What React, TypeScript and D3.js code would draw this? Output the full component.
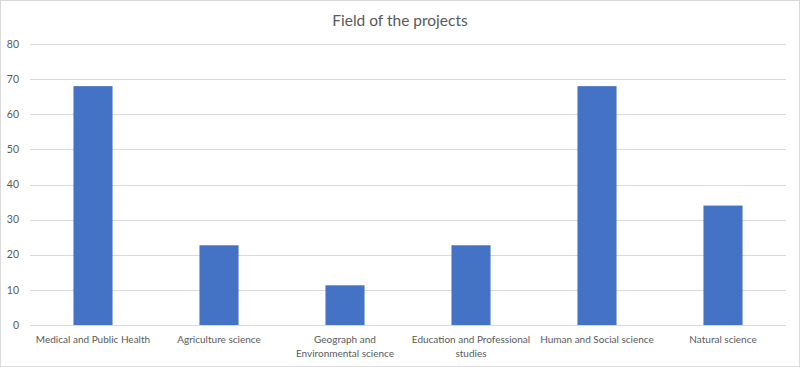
import { useEffect, useRef } from 'react';
import * as d3 from 'd3';

const categories = [
  'Medical and Public Health',
  'Agriculture science',
  'Geograph and Environmental science',
  'Education and Professional studies',
  'Human and Social science',
  'Natural science',
];
const values = [68, 22.7, 11.3, 22.7, 68, 34];
const yTicks = [0, 10, 20, 30, 40, 50, 60, 70, 80];

const WIDTH = 800;
const HEIGHT = 367;
const MARGIN = { top: 44, right: 14, bottom: 42, left: 30 };
const FONT = 'Lato, "Open Sans", sans-serif';

// wrap long category labels into lines no wider than the band
function wrap(sel: any, maxWidth: number) {
  sel.each(function (this: SVGTextElement) {
    const text = d3.select(this);
    const words = text.text().split(/\s+/);
    const x = text.attr('x');
    const y = text.attr('y');
    text.text(null);
    let line: string[] = [];
    let lineNo = 0;
    let tspan = text.append('tspan').attr('x', x).attr('y', y);
    for (const w of words) {
      line.push(w);
      tspan.text(line.join(' '));
      if ((tspan.node() as SVGTSpanElement).getComputedTextLength() > maxWidth && line.length > 1) {
        line.pop();
        tspan.text(line.join(' '));
        line = [w];
        lineNo++;
        tspan = text
          .append('tspan')
          .attr('x', x)
          .attr('y', +y + lineNo * 14)
          .text(w);
      }
    }
  });
}

export default function App() {
  const svgRef = useRef<SVGSVGElement>(null);

  useEffect(() => {
    if (!svgRef.current) return;
    const svg = d3.select(svgRef.current);
    svg.selectAll('*').remove();

    const chartW = WIDTH - MARGIN.left - MARGIN.right;
    const chartH = HEIGHT - MARGIN.top - MARGIN.bottom;

    const x = d3.scaleBand().domain(categories).range([0, chartW]).paddingInner(0.69).paddingOuter(0.345);
    const y = d3.scaleLinear().domain([0, 80]).range([chartH, 0]);

    // background + border
    svg
      .append('rect')
      .attr('x', 0.5)
      .attr('y', 0.5)
      .attr('width', WIDTH - 1)
      .attr('height', HEIGHT - 1)
      .attr('fill', '#ffffff')
      .attr('stroke', '#d9d9d9');

    svg
      .append('text')
      .attr('x', WIDTH / 2)
      .attr('y', 26)
      .attr('text-anchor', 'middle')
      .attr('font-size', '15.5px')
      .attr('fill', '#595959')
      .attr('font-family', FONT)
      .text('Field of the projects');

    const g = svg.append('g').attr('transform', `translate(${MARGIN.left},${MARGIN.top})`);

    // gridlines
    g.selectAll('.grid')
      .data(yTicks)
      .enter()
      .append('line')
      .attr('x1', 0)
      .attr('x2', chartW)
      .attr('y1', d => Math.round(y(d)) + 0.5)
      .attr('y2', d => Math.round(y(d)) + 0.5)
      .attr('stroke', '#d9d9d9')
      .attr('stroke-width', 1);

    // y tick labels
    g.selectAll('.ylab')
      .data(yTicks)
      .enter()
      .append('text')
      .attr('x', -11)
      .attr('y', d => y(d))
      .attr('dy', '0.35em')
      .attr('text-anchor', 'end')
      .attr('font-size', '10.5px')
      .attr('fill', '#595959')
      .attr('font-family', FONT)
      .text(d => String(d));

    // bars
    g.selectAll('.bar')
      .data(values)
      .enter()
      .append('rect')
      .attr('x', (_d, i) => x(categories[i]) as number)
      .attr('y', d => y(d))
      .attr('width', x.bandwidth())
      .attr('height', d => y(0) - y(d))
      .attr('fill', '#4472c4');

    // category labels
    const step = x.step();
    g.selectAll('.xlab')
      .data(categories)
      .enter()
      .append('text')
      .attr('x', d => (x(d) as number) + x.bandwidth() / 2)
      .attr('y', chartH + 18)
      .attr('text-anchor', 'middle')
      .attr('font-size', '10px')
      .attr('fill', '#595959')
      .attr('font-family', FONT)
      .text(d => d)
      .call(wrap, step);
  }, []);

  return (
    <svg
      ref={svgRef}
      width={WIDTH}
      height={HEIGHT}
      style={{ display: 'block', position: 'absolute', left: 0, top: 0 }}
    />
  );
}
